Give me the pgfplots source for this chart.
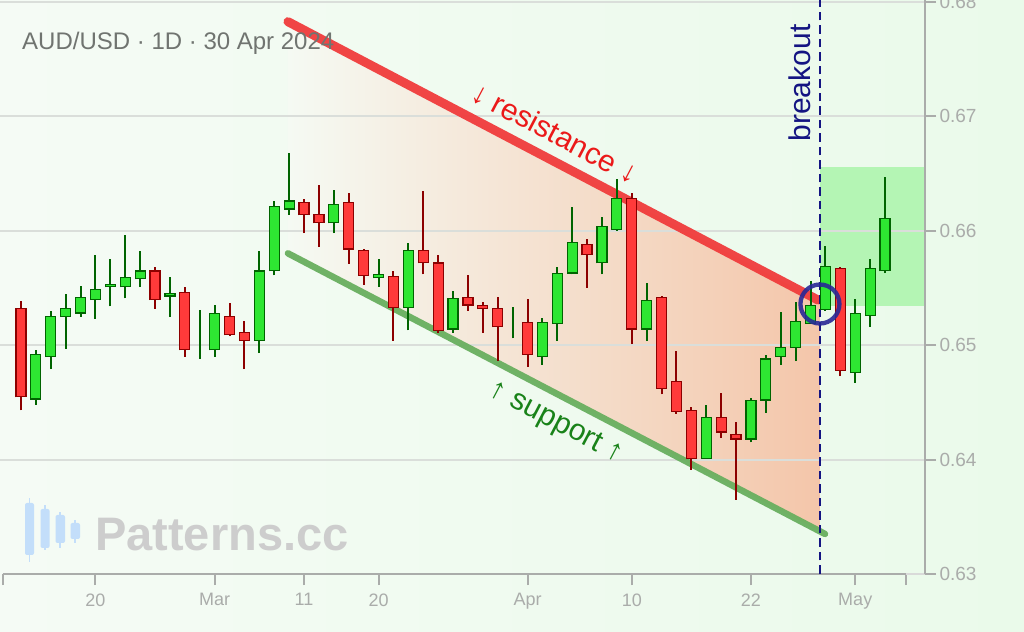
\documentclass[border=0pt]{standalone}
\usepackage{pgfplots}
\pgfplotsset{compat=1.18}
\usepackage{pgfplotstable}
\usepackage{fontspec}
\setmainfont{Liberation Sans}

\definecolor{bgL}{RGB}{245,251,245}
\definecolor{bgR}{RGB}{234,250,234}
\definecolor{gridc}{RGB}{218,222,218}
\definecolor{axc}{RGB}{170,172,170}
\definecolor{gfill}{RGB}{46,230,50}
\definecolor{gline}{RGB}{0,100,0}
\definecolor{rfill}{RGB}{255,58,58}
\definecolor{rline}{RGB}{140,0,0}
\definecolor{resc}{RGB}{240,60,60}
\definecolor{supc}{RGB}{105,175,95}
\definecolor{navyc}{RGB}{20,20,130}
\definecolor{circc}{RGB}{40,40,150}
\definecolor{tgt}{RGB}{180,245,180}
\definecolor{shL}{RGB}{245,250,243}
\definecolor{shR}{RGB}{244,198,170}
\definecolor{titc}{RGB}{112,116,112}
\definecolor{wm}{RGB}{205,205,205}
\definecolor{wmicon}{RGB}{195,222,250}
\definecolor{restext}{RGB}{235,25,25}
\definecolor{suptext}{RGB}{25,130,25}

% green (bullish) candles: index, open, high, low, close
\pgfplotstableread{
i o h l c
1 0.6453 0.6496 0.6448 0.6492
2 0.6490 0.6530 0.6479 0.6525
3 0.6525 0.6545 0.6497 0.6532
4 0.6528 0.6552 0.6525 0.6542
5 0.6540 0.6579 0.6523 0.6549
6 0.6551 0.6575 0.6534 0.6553
7 0.6551 0.6596 0.6541 0.6559
8 0.6558 0.6582 0.6551 0.6565
10 0.6543 0.6560 0.6525 0.6545
13 0.6496 0.6535 0.6490 0.6528
16 0.6504 0.6582 0.6493 0.6565
17 0.6565 0.6626 0.6561 0.6621
18 0.6619 0.6668 0.6614 0.6626
21 0.6607 0.6636 0.6598 0.6623
24 0.6559 0.6575 0.6551 0.6562
26 0.6533 0.6589 0.6513 0.6583
29 0.6514 0.6547 0.6511 0.6541
35 0.6490 0.6524 0.6483 0.6520
36 0.6519 0.6568 0.6504 0.6563
37 0.6563 0.6621 0.6562 0.6590
39 0.6572 0.6612 0.6562 0.6604
40 0.6601 0.6645 0.6600 0.6628
42 0.6514 0.6554 0.6504 0.6539
46 0.6401 0.6448 0.6401 0.6437
49 0.6418 0.6454 0.6415 0.6452
50 0.6452 0.6491 0.6441 0.6488
51 0.6490 0.6529 0.6483 0.6498
52 0.6498 0.6538 0.6486 0.6521
53 0.6519 0.6556 0.6519 0.6535
54 0.6531 0.6587 0.6530 0.6569
56 0.6476 0.6540 0.6467 0.6528
57 0.6526 0.6575 0.6516 0.6567
58 0.6565 0.6647 0.6563 0.6611
}\greentab

% red (bearish) candles
\pgfplotstableread{
i o h l c
0 0.6532 0.6539 0.6443 0.6455
9 0.6565 0.6568 0.6532 0.6540
11 0.6546 0.6551 0.6490 0.6496
14 0.6525 0.6537 0.6508 0.6509
15 0.6511 0.6521 0.6479 0.6504
19 0.6625 0.6628 0.6598 0.6614
20 0.6614 0.6640 0.6586 0.6607
22 0.6625 0.6633 0.6571 0.6584
23 0.6583 0.6584 0.6553 0.6561
25 0.6560 0.6565 0.6504 0.6533
27 0.6583 0.6635 0.6562 0.6572
28 0.6572 0.6579 0.6511 0.6513
30 0.6542 0.6561 0.6530 0.6535
31 0.6535 0.6538 0.6511 0.6532
32 0.6532 0.6542 0.6486 0.6516
34 0.6520 0.6540 0.6481 0.6492
38 0.6588 0.6593 0.6550 0.6579
41 0.6628 0.6633 0.6501 0.6514
43 0.6542 0.6543 0.6457 0.6462
44 0.6468 0.6495 0.6440 0.6442
45 0.6443 0.6446 0.6391 0.6401
47 0.6437 0.6458 0.6419 0.6424
48 0.6422 0.6433 0.6365 0.6418
55 0.6567 0.6568 0.6473 0.6478
}\redtab

% candles with open = close (wick only)
\pgfplotstableread{
i h l
12 0.6531 0.6488
33 0.6533 0.6506
}\dojitab

\begin{document}
\begin{tikzpicture}
\useasboundingbox (0,0) rectangle (1024bp,632bp);
\fill[left color=bgL, right color=bgR] (0,0) rectangle (1024bp,632bp);
% watermark icon
\draw[wmicon, line width=1.5bp] (29.5bp,70bp) -- (29.5bp,134bp);
\fill[wmicon, rounded corners=2bp] (25bp,77bp) rectangle (34bp,129bp);
\draw[wmicon, line width=1.5bp] (45bp,82bp) -- (45bp,127bp);
\fill[wmicon, rounded corners=2bp] (40.5bp,84bp) rectangle (49.6bp,123bp);
\draw[wmicon, line width=1.5bp] (60bp,84bp) -- (60bp,120bp);
\fill[wmicon, rounded corners=2bp] (55.5bp,89bp) rectangle (65bp,117bp);
\draw[wmicon, line width=1.5bp] (75bp,89bp) -- (75bp,112bp);
\fill[wmicon, rounded corners=2bp] (70.5bp,93bp) rectangle (80bp,109bp);
\node[anchor=base west, inner sep=0pt, text=wm, font=\bfseries\fontsize{47bp}{47bp}\selectfont] at (95bp,81bp) {Patterns.cc};

\begin{axis}[
  at={(0bp,58bp)}, anchor=south west,
  scale only axis, width=925bp, height=572bp,
  xmin=-1.4097, xmax=60.683, ymin=0.63, ymax=0.68,
  clip=false,
  axis line style={draw=none},
  xtick={-1.21,5,13,19,24,34,41,49,56,59.4},
  xticklabels={,20,Mar,11,20,Apr,10,22,May,},
  ytick={0.63,0.64,0.65,0.66,0.67,0.68},
  yticklabels={0.63,0.64,0.65,0.66,0.67,0.68},
  xtick pos=left, ytick pos=right, yticklabel pos=right,
  tick align=outside, major tick length=11bp,
  tick style={axc, line width=2bp},
  xticklabel style={font=\fontsize{18bp}{18bp}\selectfont, text=axc, yshift=-5bp},
  yticklabel style={font=\fontsize{19bp}{19bp}\selectfont, text=axc},
]
% channel shading
\addplot[draw=none, left color=shL, right color=shR, forget plot]
  coordinates {(17.92,0.67828) (53.63,0.65385) (53.63,0.63375) (17.92,0.65803)} -- cycle;
% target zone
\addplot[draw=none, fill=tgt, forget plot]
  coordinates {(53.63,0.65343) (60.683,0.65343) (60.683,0.6656) (53.63,0.6656)} -- cycle;
% grid lines
\draw[gridc, line width=2bp] (axis cs:-1.4097,0.64) -- (axis cs:60.683,0.64);
\draw[gridc, line width=2bp] (axis cs:-1.4097,0.65) -- (axis cs:60.683,0.65);
\draw[gridc, line width=2bp] (axis cs:-1.4097,0.66) -- (axis cs:60.683,0.66);
\draw[gridc, line width=2bp] (axis cs:-1.4097,0.67) -- (axis cs:60.683,0.67);
\draw[gridc, line width=2bp] (axis cs:-1.4097,0.68) -- (axis cs:60.683,0.68);
% axis lines
\draw[axc, line width=2.5bp] (axis cs:-1.21,0.63) -- (axis cs:59.4,0.63);
\draw[axc!45, line width=2bp] (axis cs:59.4,0.63) -- (axis cs:60.683,0.63);
\draw[axc, line width=2.5bp] (axis cs:60.683,0.63) -- (axis cs:60.683,0.6815);
% trend lines
\addplot[resc, opacity=0.95, line width=9bp, line cap=round, forget plot]
  coordinates {(17.92,0.67828) (53.5,0.65395)};
\addplot[supc, opacity=0.95, line width=6.5bp, line cap=round, forget plot]
  coordinates {(17.92,0.65803) (53.97,0.63350)};
% breakout line
\addplot[navyc, line width=2.5bp, dash pattern=on 8.5bp off 5bp, forget plot]
  coordinates {(53.63,0.63) (53.63,0.6817)};
% wicks
\addplot[draw=none, mark=none, forget plot,
  error bars/.cd, y dir=plus, y explicit, error mark=none,
  error bar style={line width=2bp, draw=gline}]
  table[x=i, y=l, y error expr=\thisrow{h}-\thisrow{l}] {\greentab};
\addplot[draw=none, mark=none, forget plot,
  error bars/.cd, y dir=plus, y explicit, error mark=none,
  error bar style={line width=2bp, draw=gline}]
  table[x=i, y=l, y error expr=\thisrow{h}-\thisrow{l}] {\dojitab};
\addplot[draw=none, mark=none, forget plot,
  error bars/.cd, y dir=plus, y explicit, error mark=none,
  error bar style={line width=2bp, draw=rline}]
  table[x=i, y=l, y error expr=\thisrow{h}-\thisrow{l}] {\redtab};
% bodies: outline
\addplot[draw=none, mark=none, forget plot,
  error bars/.cd, y dir=plus, y explicit, error mark=none,
  error bar style={line width=11.2bp, draw=gline}]
  table[x=i, y expr=\thisrow{o}-0.00005, y error expr=\thisrow{c}-\thisrow{o}+0.0001] {\greentab};
\addplot[draw=none, mark=none, forget plot,
  error bars/.cd, y dir=plus, y explicit, error mark=none,
  error bar style={line width=11.2bp, draw=rline}]
  table[x=i, y expr=\thisrow{c}-0.00005, y error expr=\thisrow{o}-\thisrow{c}+0.0001] {\redtab};
% bodies: fill
\addplot[draw=none, mark=none, forget plot,
  error bars/.cd, y dir=plus, y explicit, error mark=none,
  error bar style={line width=8.8bp, draw=gfill}]
  table[x=i, y expr=\thisrow{o}+0.00006, y error expr={max(\thisrow{c}-\thisrow{o}-0.00012,0)}] {\greentab};
\addplot[draw=none, mark=none, forget plot,
  error bars/.cd, y dir=plus, y explicit, error mark=none,
  error bar style={line width=8.8bp, draw=rfill}]
  table[x=i, y expr=\thisrow{c}+0.00006, y error expr={max(\thisrow{o}-\thisrow{c}-0.00012,0)}] {\redtab};
% breakout circle
\addplot[only marks, mark=o, mark size=19.5bp, forget plot,
  mark options={draw=circc, line width=4.3bp, draw opacity=0.9}]
  coordinates {(53.63,0.65360)};
% labels
\node[rotate=90, text=navyc, font=\fontsize{30bp}{30bp}\selectfont] at (axis cs:52.29,0.67292) {breakout};
\node[rotate=-27.7, text=restext, font=\fontsize{30bp}{30bp}\selectfont] at (axis cs:35.85,0.66855) {↓ resistance ↓};
\node[rotate=-27.7, text=suptext, font=\fontsize{30bp}{30bp}\selectfont] at (axis cs:35.91,0.6432) {↑ support ↑};
\end{axis}
\node[anchor=base west, inner sep=0pt, text=titc, font=\fontsize{24bp}{24bp}\selectfont] at (22bp,582.5bp) {AUD/USD · 1D · 30 Apr 2024};
\end{tikzpicture}
\end{document}
